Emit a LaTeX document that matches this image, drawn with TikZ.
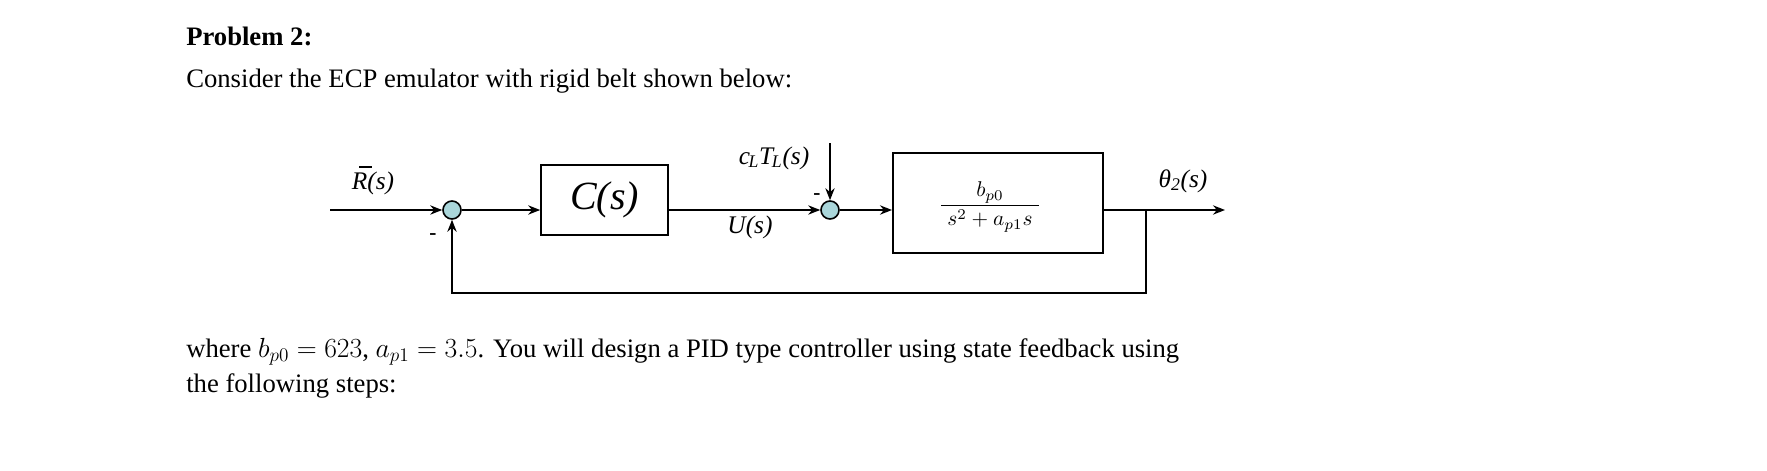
\documentclass[tikz,border=0pt]{standalone}
\usepackage{fontspec}
\setmainfont{Liberation Serif}
\usetikzlibrary{arrows.meta}
\definecolor{sumfill}{RGB}{170,214,218}
\begin{document}
\begin{tikzpicture}[x=0.75pt,y=-0.75pt,
  blk/.style={draw,line width=1.5pt,inner sep=0pt},
  sumc/.style={circle,draw,line width=1.2pt,fill=sumfill,minimum size=13.5pt,inner sep=0pt},
  wire/.style={line width=1.2pt},
  arr/.style={wire,-{Stealth[length=9pt,width=7pt]}},
  txt/.style={anchor=base west,inner sep=0pt,font=\fontsize{20}{24}\selectfont},
  lab/.style={inner sep=0pt,font=\fontsize{19}{22}\selectfont\itshape}]
\node[txt,font=\fontsize{20}{24}\selectfont\bfseries] (t1) at (186,45) {Problem 2:};
\node[txt] (t2) at (186,87) {Consider the ECP emulator with rigid belt shown below:};
\node[txt] (t3) at (186,357) {where $b_{p0}=623$, $a_{p1}=3.5$. You will design a PID type controller using state feedback using};
\node[txt] (t4) at (186,392) {the following steps:};

\coordinate (in) at (330,210);
\node[sumc] (s1) at (452,210) {};
\node[blk,minimum width=95pt,minimum height=52.5pt] (C) at (604.5,200) {\fontsize{30}{34}\selectfont\itshape C(s)};
\node[sumc] (s2) at (830,210) {};
\coordinate (dtop) at (830,143);
\node[blk,minimum width=157.5pt,minimum height=75pt] (P) at (998,203) {};
\node[inner sep=0pt] (fr) at (990,207) {\scalebox{1.6}{$\displaystyle\frac{b_{p0}}{\;s^2+a_{p1}s\;}$}};
\coordinate (out) at (1225,210);
\coordinate (br) at (1146,210);
\coordinate (bb) at (1146,293);

\draw[arr] (in) -- (s1);
\draw[arr] (s1) -- (C.west|-s1);
\draw[arr] (C.east|-s2) -- (s2);
\draw[arr] (dtop) -- (s2);
\draw[arr] (s2) -- (P.west|-s2);
\draw[arr] (P.east|-s2) -- (out);
\draw[arr] (br) -- (bb) -| (s1);

\node[lab] (rl) at (373,183) {R(s)};
\draw[line width=1.5pt] (359,167) -- (372,167);
\node[lab] (ul) at (750,227) {U(s)};
\node[lab] (dl) at (774,158) {c\textsubscript{\kern-1pt L}T\textsubscript{\kern-1pt L}(s)};
\node[lab] (ol) at (1183,181) {θ\textsubscript{2}(s)};
\node[inner sep=0pt,font=\fontsize{16}{16}\selectfont\bfseries] at (433,237) {-};
\node[inner sep=0pt,font=\fontsize{16}{16}\selectfont\bfseries] at (817,197) {-};
\pgfresetboundingbox
\path (0,0) rectangle (1767,471);
\end{tikzpicture}
\end{document}
